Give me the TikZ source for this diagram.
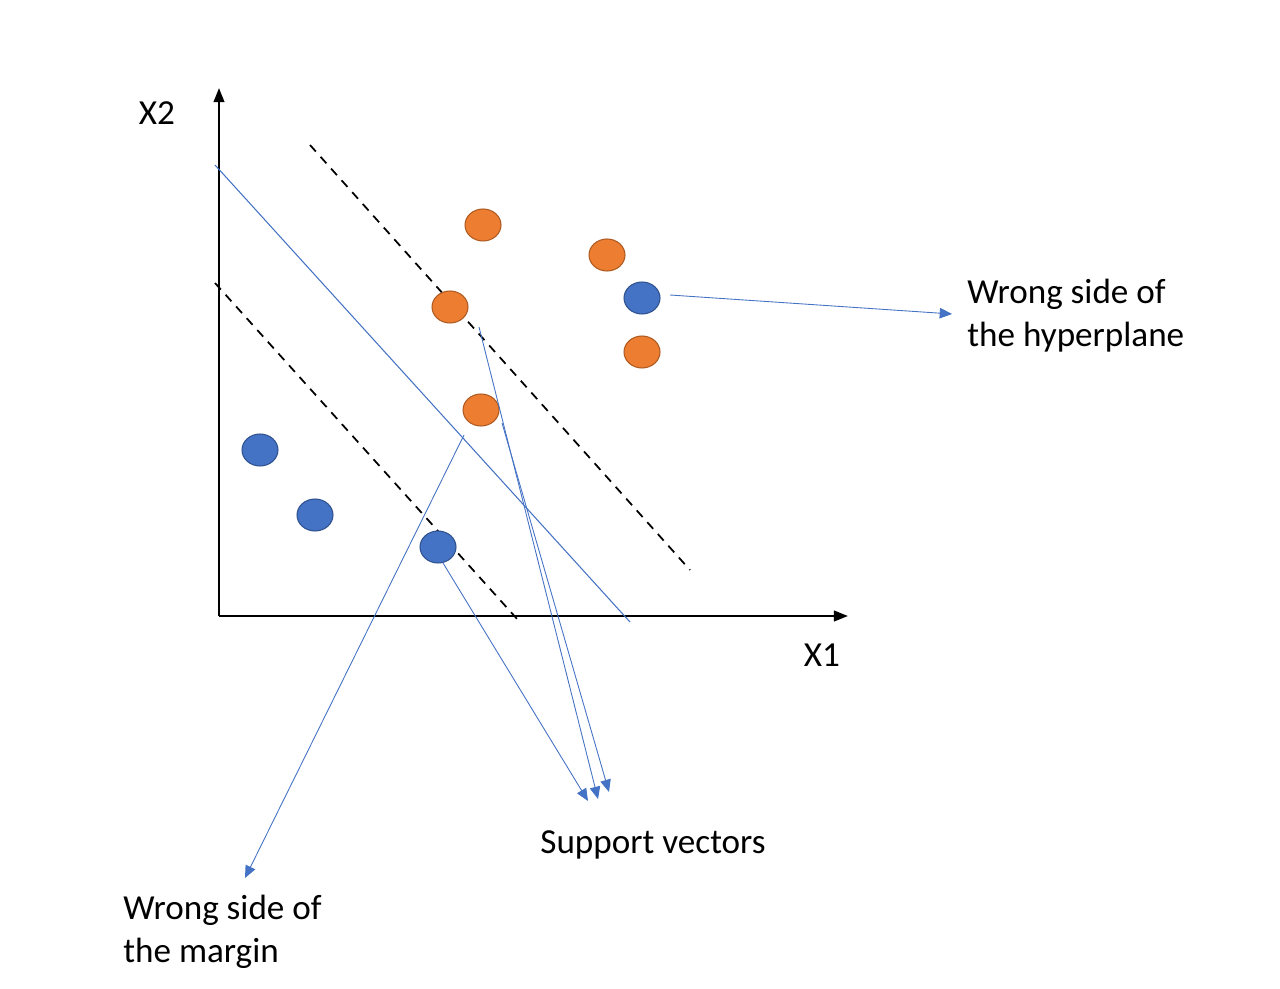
\documentclass[tikz,border=0pt]{standalone}
\usepackage{fontspec}
\setmainfont{Carlito}
\usetikzlibrary{arrows.meta,shapes.geometric}
\definecolor{ob}{RGB}{237,125,49}
\definecolor{obd}{RGB}{174,90,33}
\definecolor{bb}{RGB}{68,114,196}
\definecolor{bbd}{RGB}{47,82,143}
\begin{document}
\begin{tikzpicture}[x=0.02cm,y=-0.02cm,
  orangept/.style={ellipse,draw=obd,fill=ob,minimum width=0.72cm,minimum height=0.64cm,inner sep=0,line width=0.6pt},
  bluept/.style={ellipse,draw=bbd,fill=bb,minimum width=0.72cm,minimum height=0.64cm,inner sep=0,line width=0.6pt},
  conn/.style={draw=bb,line width=0.5pt,-{Triangle[length=7pt,width=6pt]}},
  lbl/.style={font=\fontsize{20}{24.5}\selectfont,align=left,inner sep=0}]
\useasboundingbox (0,0) rectangle (1280,989);
\coordinate (o) at (219,616);
\coordinate (ytop) at (219,88);
\coordinate (xend) at (848,616);
\draw[line width=1.2pt,-{Triangle[length=8pt,width=6pt]}] (o) -- (ytop);
\draw[line width=1.2pt,-{Triangle[length=8pt,width=6pt]}] (o) -- (xend);
\coordinate (h1) at (215,165); \coordinate (h2) at (630,622);
\draw[bb,line width=0.6pt] (h1) -- (h2);
\coordinate (u1) at (310,145); \coordinate (u2) at (690,570);
\coordinate (l1) at (215,283); \coordinate (l2) at (518,620);
\draw[dashed,line width=1pt,dash pattern=on 5pt off 4pt] (u1) -- (u2);
\draw[dashed,line width=1pt,dash pattern=on 5pt off 4pt] (l1) -- (l2);
\node[orangept] (o1) at (483,225) {};
\node[orangept] (o2) at (607,255) {};
\node[orangept] (o3) at (450,307) {};
\node[orangept] (o4) at (642,352) {};
\node[orangept] (o5) at (481,410) {};
\node[bluept] (b1) at (642,298) {};
\node[bluept] (b2) at (260,450) {};
\node[bluept] (b3) at (315,515) {};
\node[bluept] (b4) at (438,547) {};
\node[lbl,anchor=center] (x2) at (157,113) {X2};
\node[lbl,anchor=center] (x1) at (822,655) {X1};
\node[lbl,anchor=west] (hyp) at (967,316) {Wrong side of\\the hyperplane};
\node[lbl,anchor=center] (sv) at (653,845) {Support vectors};
\node[lbl,anchor=west] (mar) at (123,932) {Wrong side of\\the margin};
\coordinate (a1s) at (670,295); \coordinate (a1e) at (952,314);
\draw[conn] (a1s) -- (a1e);
\coordinate (a2s) at (479,327); \coordinate (a2e) at (598,799);
\draw[conn] (a2s) -- (a2e);
\coordinate (a3s) at (502,423); \coordinate (a3e) at (609,792);
\draw[conn] (a3s) -- (a3e);
\coordinate (a4s) at (443,563); \coordinate (a4e) at (588,801);
\draw[conn] (a4s) -- (a4e);
\coordinate (a5s) at (464,435); \coordinate (a5e) at (245,878);
\draw[conn] (a5s) -- (a5e);
\end{tikzpicture}
\end{document}
